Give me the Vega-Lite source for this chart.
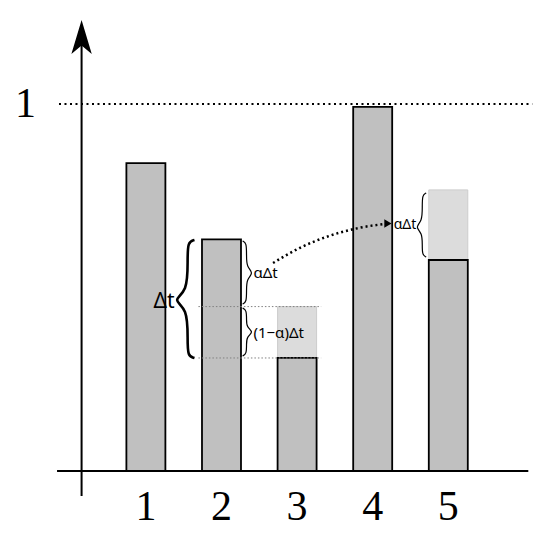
{
  "$schema": "https://vega.github.io/schema/vega-lite/v6.json",
  "width": 550,
  "height": 536,
  "padding": 0,
  "autosize": {"type": "none"},
  "background": "white",
  "config": {"view": {"stroke": null}},
  "datasets": {
    "bars": [
      {"x": 1, "y": 0.839},
      {"x": 2, "y": 0.631},
      {"x": 3, "y": 0.308},
      {"x": 4, "y": 0.992},
      {"x": 5, "y": 0.575}
    ],
    "ghost": [
      {"x": 3, "y": 0.448, "y2": 0.308},
      {"x": 5, "y": 0.766, "y2": 0.575}
    ],
    "refline": [{"x": -0.1494, "x2": 6.1104, "y": 1}],
    "guides": [
      {"x": 1.6948, "x2": 3.3182, "y": 0.448},
      {"x": 1.6948, "x2": 3.3182, "y": 0.308}
    ],
    "axes": [
      {"x": -0.1753, "x2": 6.0584, "y": 0, "y2": 0},
      {"x": 0.1494, "x2": 0.1494, "y": -0.0681, "y2": 1.1744}
    ],
    "yhead": [{"x": 0.1494, "y": 1.1826}],
    "arc": [
      {"i": 0, "x": 2.6818, "y": 0.5668},
      {"i": 1, "x": 3.0325, "y": 0.6076},
      {"i": 2, "x": 3.4221, "y": 0.6403},
      {"i": 3, "x": 3.8117, "y": 0.6621},
      {"i": 4, "x": 4.1494, "y": 0.673}
    ],
    "archead": [{"x": 4.2013, "y": 0.6744}],
    "bigbrace": [
      {"i": 0, "x": 1.6429, "y": 0.6294},
      {"i": 1, "x": 1.5519, "y": 0.624},
      {"i": 2, "x": 1.5519, "y": 0.5749},
      {"i": 3, "x": 1.5519, "y": 0.4877},
      {"i": 4, "x": 1.3442, "y": 0.4659},
      {"i": 5, "x": 1.5519, "y": 0.4441},
      {"i": 6, "x": 1.5519, "y": 0.3569},
      {"i": 7, "x": 1.5519, "y": 0.3134},
      {"i": 8, "x": 1.6429, "y": 0.3079}
    ],
    "braces": [
      {"id": "a", "i": 0, "x": 2.2792, "y": 0.6267},
      {"id": "a", "i": 1, "x": 2.3312, "y": 0.6213},
      {"id": "a", "i": 2, "x": 2.3312, "y": 0.5886},
      {"id": "a", "i": 3, "x": 2.3312, "y": 0.5559},
      {"id": "a", "i": 4, "x": 2.4286, "y": 0.5395},
      {"id": "a", "i": 5, "x": 2.3312, "y": 0.5232},
      {"id": "a", "i": 6, "x": 2.3312, "y": 0.4905},
      {"id": "a", "i": 7, "x": 2.3312, "y": 0.4605},
      {"id": "a", "i": 8, "x": 2.2792, "y": 0.455},
      {"id": "b", "i": 0, "x": 2.2792, "y": 0.4441},
      {"id": "b", "i": 1, "x": 2.3312, "y": 0.4387},
      {"id": "b", "i": 2, "x": 2.3312, "y": 0.4114},
      {"id": "b", "i": 3, "x": 2.3312, "y": 0.3924},
      {"id": "b", "i": 4, "x": 2.4286, "y": 0.3787},
      {"id": "b", "i": 5, "x": 2.3312, "y": 0.3651},
      {"id": "b", "i": 6, "x": 2.3312, "y": 0.346},
      {"id": "b", "i": 7, "x": 2.3312, "y": 0.3188},
      {"id": "b", "i": 8, "x": 2.2792, "y": 0.3134},
      {"id": "c", "i": 0, "x": 4.7078, "y": 0.7575},
      {"id": "c", "i": 1, "x": 4.6558, "y": 0.752},
      {"id": "c", "i": 2, "x": 4.6558, "y": 0.7193},
      {"id": "c", "i": 3, "x": 4.6558, "y": 0.6812},
      {"id": "c", "i": 4, "x": 4.5584, "y": 0.6649},
      {"id": "c", "i": 5, "x": 4.6558, "y": 0.6485},
      {"id": "c", "i": 6, "x": 4.6558, "y": 0.6158},
      {"id": "c", "i": 7, "x": 4.6558, "y": 0.5886},
      {"id": "c", "i": 8, "x": 4.7078, "y": 0.5831}
    ],
    "numbers": [
      {"x": 1, "y": -0.1335, "t": "1"},
      {"x": 2, "y": -0.1335, "t": "2"},
      {"x": 3, "y": -0.1335, "t": "3"},
      {"x": 4, "y": -0.1335, "t": "4"},
      {"x": 5, "y": -0.1335, "t": "5"},
      {"x": -0.5909, "y": 0.9646, "t": "1"}
    ],
    "dt": [{"x": 1.2403, "y": 0.4441, "t": "Δt"}],
    "leftlabels": [
      {"x": 2.4221, "y": 0.5259, "t": "αΔt"},
      {"x": 2.4221, "y": 0.3624, "t": "(1−α)Δt"}
    ],
    "rightlabels": [{"x": 4.5779, "y": 0.6594, "t": "αΔt"}]
  },
  "encoding": {
    "x": {"field": "x", "type": "quantitative", "scale": {"domain": [-0.8636, 6.2792], "nice": false, "zero": false}, "axis": null},
    "y": {"field": "y", "type": "quantitative", "scale": {"domain": [-0.1771, 1.2834], "nice": false, "zero": false}, "axis": null}
  },
  "layer": [
    {
      "data": {"name": "ghost"},
      "mark": {"type": "bar", "width": 39, "fill": "#dcdcdc", "stroke": "#cdcdcd", "strokeWidth": 1},
      "encoding": {"y2": {"field": "y2"}}
    },
    {
      "data": {"name": "bars"},
      "mark": {"type": "bar", "width": 39, "fill": "#c0c0c0", "stroke": "#000000", "strokeWidth": 1.8},
      "encoding": {"y2": {"datum": 0}}
    },
    {
      "data": {"name": "guides"},
      "mark": {"type": "rule", "stroke": "#808080", "strokeWidth": 1, "strokeDash": [1.5, 2]},
      "encoding": {"x2": {"field": "x2"}}
    },
    {
      "data": {"name": "refline"},
      "mark": {"type": "rule", "stroke": "#000000", "strokeWidth": 2, "strokeDash": [2, 3.5]},
      "encoding": {"x2": {"field": "x2"}}
    },
    {
      "data": {"name": "axes"},
      "mark": {"type": "rule", "stroke": "#000000", "strokeWidth": 2},
      "encoding": {"x2": {"field": "x2"}, "y2": {"field": "y2"}}
    },
    {
      "data": {"name": "yhead"},
      "mark": {"type": "point", "shape": "M0,-1 L0.6,1 L0,0.5 L-0.6,1 Z", "size": 1156, "filled": true, "fill": "#000000", "opacity": 1, "strokeWidth": 0}
    },
    {
      "data": {"name": "bigbrace"},
      "mark": {"type": "line", "interpolate": "basis", "stroke": "#000000", "strokeWidth": 2.6},
      "encoding": {"order": {"field": "i", "type": "quantitative"}}
    },
    {
      "data": {"name": "braces"},
      "mark": {"type": "line", "interpolate": "basis", "stroke": "#000000", "strokeWidth": 1.2},
      "encoding": {"detail": {"field": "id"}, "order": {"field": "i", "type": "quantitative"}}
    },
    {
      "data": {"name": "arc"},
      "mark": {"type": "line", "interpolate": "monotone", "stroke": "#000000", "strokeWidth": 2.5, "strokeDash": [2, 3]},
      "encoding": {"order": {"field": "i", "type": "quantitative"}}
    },
    {
      "data": {"name": "archead"},
      "mark": {"type": "point", "shape": "triangle-right", "size": 70, "filled": true, "fill": "#000000", "opacity": 1, "strokeWidth": 0}
    },
    {
      "data": {"name": "numbers"},
      "mark": {"type": "text", "font": "Liberation Serif", "fontSize": 42, "align": "center", "baseline": "alphabetic", "color": "#000000"},
      "encoding": {"text": {"field": "t"}}
    },
    {
      "data": {"name": "dt"},
      "mark": {"type": "text", "font": "Noto Sans", "fontSize": 21, "align": "center", "baseline": "alphabetic", "color": "#000000"},
      "encoding": {"text": {"field": "t"}}
    },
    {
      "data": {"name": "leftlabels"},
      "mark": {"type": "text", "font": "Noto Sans", "fontSize": 15, "align": "left", "baseline": "alphabetic", "color": "#000000"},
      "encoding": {"text": {"field": "t"}}
    },
    {
      "data": {"name": "rightlabels"},
      "mark": {"type": "text", "font": "Noto Sans", "fontSize": 14, "align": "right", "baseline": "alphabetic", "color": "#000000"},
      "encoding": {"text": {"field": "t"}}
    }
  ]
}
